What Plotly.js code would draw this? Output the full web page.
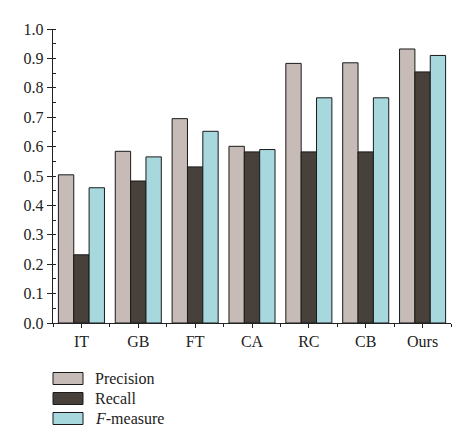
<!DOCTYPE html>
<html>
<head>
<meta charset="utf-8">
<script src="https://cdn.plot.ly/plotly-3.0.1.min.js"></script>
<style>html,body{margin:0;padding:0;background:#fff;}#chart{width:474px;height:448px;}</style>
</head>
<body>
<div id="chart"></div>
<script>
const categories = ["IT", "GB", "FT", "CA", "RC", "CB", "Ours"];
const seriesNames = ["Precision", "Recall", "<i>F</i>-measure"];
const precision = [0.504, 0.584, 0.695, 0.601, 0.883, 0.885, 0.932];
const recall = [0.232, 0.483, 0.531, 0.582, 0.582, 0.582, 0.854];
const fmeasure = [0.460, 0.565, 0.652, 0.590, 0.766, 0.766, 0.910];
const yTickVals = [0, 0.1, 0.2, 0.3, 0.4, 0.5, 0.6, 0.7, 0.8, 0.9, 1.0];
const yTickText = ["0.0", "0.1", "0.2", "0.3", "0.4", "0.5", "0.6", "0.7", "0.8", "0.9", "1.0"];

const colors = ["#c6bbb6", "#47403b", "#a7d8de"];
const seriesValues = [precision, recall, fmeasure];
const xIdx = categories.map((c, i) => i);

const traces = seriesValues.map((vals, k) => ({
  type: "bar",
  name: seriesNames[k],
  x: xIdx,
  y: vals,
  marker: {color: colors[k], line: {color: "#1a1a1a", width: 1}},
  hoverinfo: "y+name"
}));

const font = {family: "Liberation Serif, Times New Roman, serif", size: 16, color: "#222"};

// legend drawn manually (wide swatches like the reference)
const plotL = 53, plotR = 451, plotT = 29, plotB = 323;
const pw = plotR - plotL, ph = plotB - plotT;
const px = v => (v - plotL) / pw;
const py = v => (plotB - v) / ph;
const legendY = [378.5, 398.5, 418.5];
const shapes = [];
const annotations = [];
seriesNames.forEach((n, k) => {
  shapes.push({type: "rect", xref: "paper", yref: "paper",
    x0: px(53), x1: px(83), y0: py(legendY[k] + 6), y1: py(legendY[k] - 6),
    fillcolor: colors[k], line: {color: "#1a1a1a", width: 1}});
  annotations.push({xref: "paper", yref: "paper", x: px(93), y: py(legendY[k]),
    xanchor: "left", yanchor: "middle", text: n, showarrow: false, font: font});
});

const layout = {
  width: 474, height: 448,
  margin: {l: plotL, r: 474 - plotR, t: plotT, b: 448 - plotB},
  paper_bgcolor: "#fff", plot_bgcolor: "#fff",
  barmode: "group", bargap: 0.19, bargroupgap: 0,
  showlegend: false,
  font: font,
  xaxis: {
    range: [-0.5, 6.5], tickvals: xIdx, ticktext: categories,
    showgrid: false, zeroline: false, showline: true, linecolor: "#222", linewidth: 1.2,
    ticks: "outside", ticklen: 4, tickcolor: "#222", tickwidth: 1,
    minor: {tick0: 0.5, dtick: 1, ticks: "outside", ticklen: 3, tickcolor: "#222", showgrid: false},
    tickfont: font
  },
  yaxis: {
    range: [0, 1.0], tickvals: yTickVals, ticktext: yTickText,
    showgrid: false, zeroline: false, showline: true, linecolor: "#222", linewidth: 1.2,
    ticks: "outside", ticklen: 5, tickcolor: "#222", tickwidth: 1,
    minor: {dtick: 0.05, tick0: 0, ticks: "inside", ticklen: 3, tickcolor: "#222", showgrid: false},
    tickfont: font
  },
  shapes: shapes,
  annotations: annotations
};

Plotly.newPlot("chart", traces, layout, {displayModeBar: false, staticPlot: true});
</script>
</body>
</html>
